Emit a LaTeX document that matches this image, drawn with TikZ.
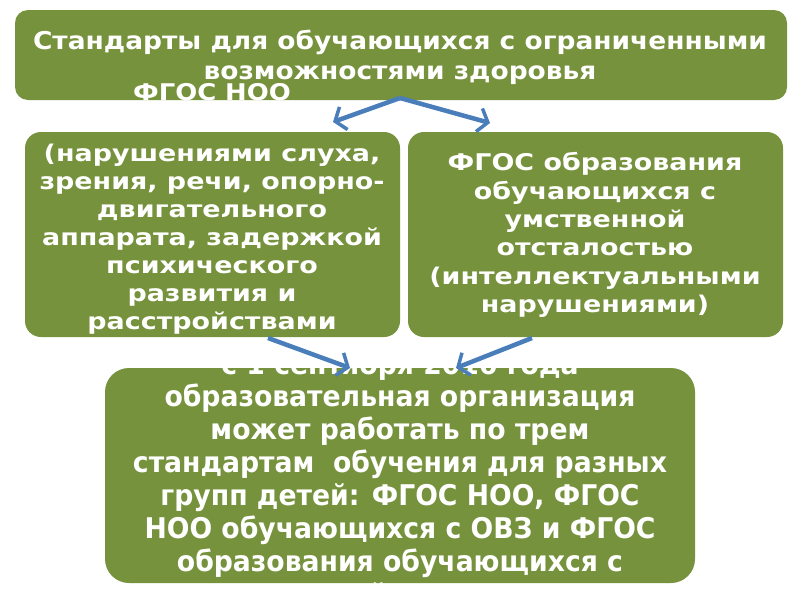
\documentclass[tikz,border=0pt]{standalone}
\usepackage{fontspec}
\setmainfont{DejaVu Sans}
\newfontfamily\topf{DejaVu Sans Condensed Bold}[FakeStretch=1.2]
\newfontfamily\nooF{DejaVu Sans Condensed Bold}[FakeStretch=1.25]
\newfontfamily\midf{DejaVu Sans Bold}[FakeStretch=1.17]
\newfontfamily\botf{DejaVu Sans Condensed Bold}[FakeStretch=1.04]
\usetikzlibrary{arrows.meta}
\definecolor{olive}{HTML}{76923C}
\definecolor{arrowblue}{HTML}{4A7EBB}
\tikzset{
  box/.style={fill=olive, draw=none, inner sep=0pt},
  txt/.style={text=white, inner sep=0pt, align=center},
  conn/.style={draw=arrowblue, line width=4.5pt, -{Straight Barb[length=9pt,width=24pt,line width=3.5pt]}}
}
\begin{document}
\begin{tikzpicture}[x=1pt,y=-1pt]
\fill[white] (0,0) rectangle (800,600);
\useasboundingbox (0,0) rectangle (800,600);
% boxes
\node[box, rounded corners=13pt, minimum width=772pt, minimum height=90pt] (top) at (401,55) {};
\node[box, rounded corners=16pt, minimum width=375pt, minimum height=205pt] (left) at (212.5,234.5) {};
\node[box, rounded corners=16pt, minimum width=375pt, minimum height=205pt] (right) at (595.5,234.5) {};
\node[box, rounded corners=24pt, minimum width=590pt, minimum height=215pt] (bottom) at (400,475.5) {};
% texts
\node[txt, font=\topf\fontsize{24.5}{30}\selectfont] (toptext) at (400,57)
  {Стандарты для обучающихся с ограниченными\\возможностями здоровья};
\node[txt, font=\midf\fontsize{23}{28}\selectfont, anchor=north] (lefttext) at (212,83)
  {{\nooF\fontsize{23}{28}\selectfont ФГОС НОО}\\[-1pt]обучающихся с ОВЗ\\[6pt](нарушениями слуха,\\зрения, речи, опорно-\\двигательного\\аппарата, задержкой\\психического\\развития и\\расстройствами};
\node[txt, font=\midf\fontsize{23}{28.4}\selectfont] (righttext) at (595,235)
  {ФГОС образования\\обучающихся с\\умственной\\отсталостью\\(интеллектуальными\\нарушениями)};
\node[txt, font=\botf\fontsize{28.5}{32.9}\selectfont] (bottomtext) at (400,481)
  {с 1 сентября 2016 года\\образовательная организация\\может работать по трем\\стандартам\ \ обучения для разных\\групп детей: ФГОС НОО, ФГОС\\НОО обучающихся с ОВЗ и ФГОС\\образования обучающихся с\\умственной отсталостью};
% arrows
\coordinate (apex) at (400,98);
\coordinate (ltip) at (333,122);
\coordinate (rtip) at (490,123);
\coordinate (bls) at (268,338);
\coordinate (blt) at (350,368);
\coordinate (brs) at (532,338);
\coordinate (brt) at (456,368);
\draw[conn] (apex) -- (ltip);
\draw[conn] (apex) -- (rtip);
\draw[conn] (bls) -- (blt);
\draw[conn] (brs) -- (brt);
\end{tikzpicture}
\end{document}
